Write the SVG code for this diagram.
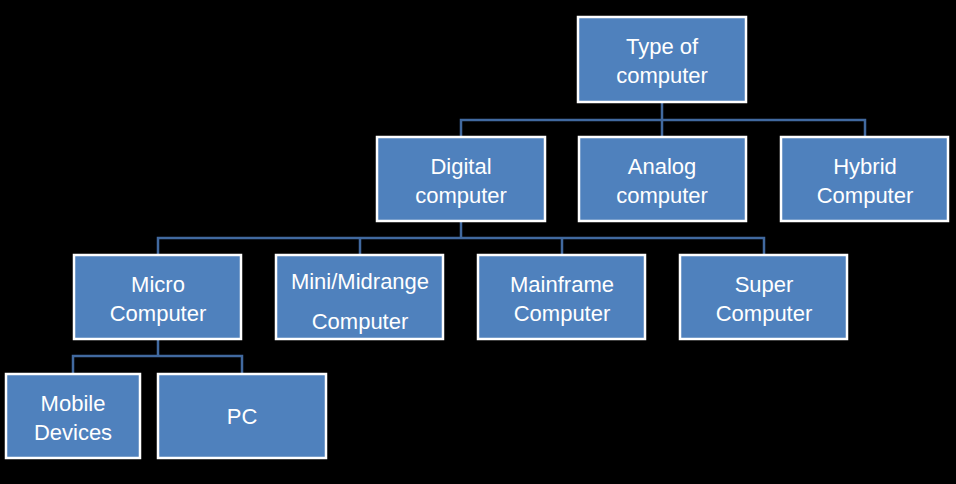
<svg xmlns="http://www.w3.org/2000/svg" width="956" height="484" viewBox="0 0 956 484">
<style>
.b{fill:#4F81BD;stroke:#fff;stroke-width:2.5}
.t{font-family:"Liberation Sans",Arial,sans-serif;font-size:22px;fill:#fff;text-anchor:middle}
.c{fill:none;stroke:#41699F;stroke-width:2.5}
</style>
<rect width="956" height="484" fill="#000"/>
<g id="connectors">
<path class="c" d="M662 102V120M461 137V120H865V137M662 120V137"/>
<path class="c" d="M461 221V238M158 255V238H764V255M360 238V255M562 238V255"/>
<path class="c" d="M158 339V356M73 374V356H242V374"/>
</g>
<g id="type"><rect class="b" x="578" y="17" width="168" height="85"/><text class="t" x="662" y="54">Type of</text><text class="t" x="662" y="83">computer</text></g>
<g id="digital"><rect class="b" x="377" y="137" width="168" height="84"/><text class="t" x="461" y="174">Digital</text><text class="t" x="461" y="203">computer</text></g>
<g id="analog"><rect class="b" x="579" y="137" width="167" height="84"/><text class="t" x="662" y="174">Analog</text><text class="t" x="662" y="203">computer</text></g>
<g id="hybrid"><rect class="b" x="781" y="137" width="167" height="84"/><text class="t" x="865" y="174">Hybrid</text><text class="t" x="865" y="203">Computer</text></g>
<g id="micro"><rect class="b" x="74" y="255" width="167" height="84"/><text class="t" x="158" y="292">Micro</text><text class="t" x="158" y="321">Computer</text></g>
<g id="mini"><rect class="b" x="276" y="255" width="167" height="84"/><text class="t" x="360" y="289">Mini/Midrange</text><text class="t" x="360" y="329">Computer</text></g>
<g id="mainframe"><rect class="b" x="478" y="255" width="167" height="84"/><text class="t" x="562" y="292">Mainframe</text><text class="t" x="562" y="321">Computer</text></g>
<g id="super"><rect class="b" x="680" y="255" width="167" height="84"/><text class="t" x="764" y="292">Super</text><text class="t" x="764" y="321">Computer</text></g>
<g id="mobile"><rect class="b" x="6" y="374" width="134" height="84"/><text class="t" x="73" y="411">Mobile</text><text class="t" x="73" y="440">Devices</text></g>
<g id="pc"><rect class="b" x="158" y="374" width="168" height="84"/><text class="t" x="242" y="424">PC</text></g>
</svg>
